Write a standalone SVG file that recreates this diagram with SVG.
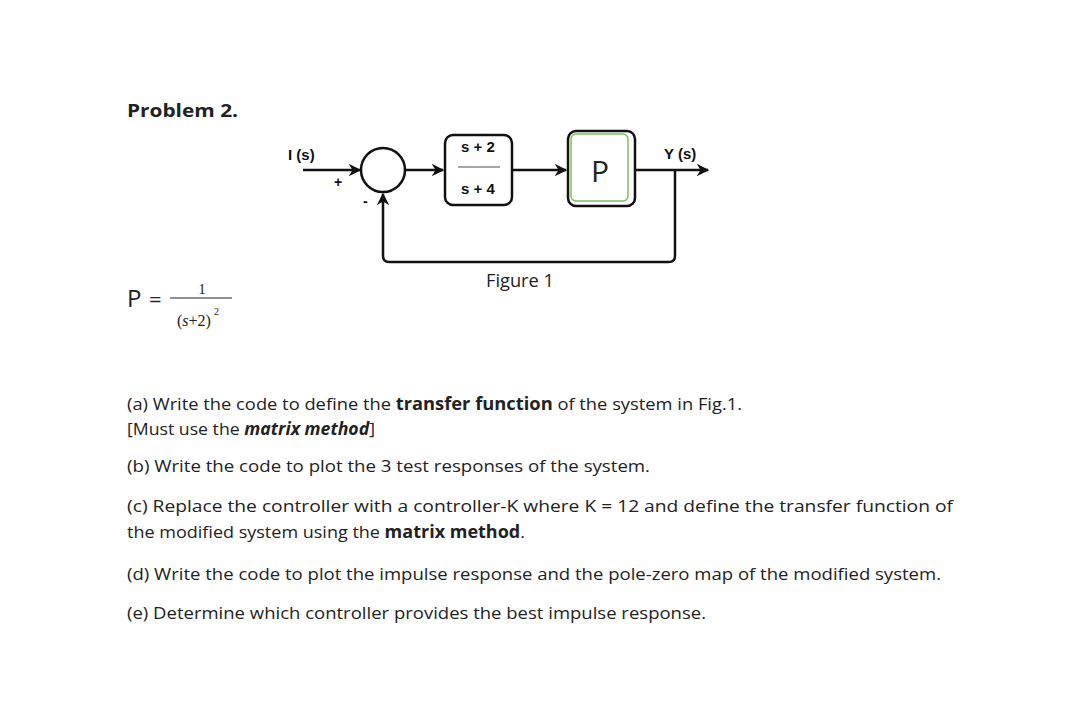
<svg xmlns="http://www.w3.org/2000/svg" width="1080" height="717" viewBox="0 0 1080 717">
<style>
.t{font-family:"Open Sans","Liberation Sans",Arial,sans-serif;fill:#222}
.b{font-family:"Liberation Sans",Arial,sans-serif;font-weight:bold;fill:#111}
.l{stroke:#111;stroke-width:2.5;fill:none}
.m{font-family:"Liberation Serif","Times New Roman",serif;fill:#222}
</style>
<defs><marker id="a" viewBox="0 0 10 10" refX="9" refY="5" markerWidth="5" markerHeight="5" orient="auto"><path d="M0,0L10,5L0,10L3,5z" fill="#111"/></marker></defs>
<rect width="1080" height="717" fill="#fff"/>
<text class="t" x="127" y="117" font-size="18" font-weight="bold" textLength="111" lengthAdjust="spacingAndGlyphs">Problem 2.</text>
<g id="sum"><circle class="l" cx="383" cy="170" r="22"/></g>
<g id="ctrl"><rect class="l" x="445" y="135" width="67" height="70" rx="8"/><line x1="458" y1="167" x2="500" y2="167" stroke="#888" stroke-width="1.5"/><text class="b" x="478" y="152" font-size="15" text-anchor="middle">s + 2</text><text class="b" x="478" y="194" font-size="15" text-anchor="middle">s + 4</text></g>
<g id="plant"><rect class="l" x="568" y="131" width="67" height="75" rx="8"/><rect x="571" y="134" width="57" height="67" rx="5" fill="none" stroke="#7fbf5f" stroke-width="1.5"/><text class="t" x="600" y="182" font-size="30" text-anchor="middle">P</text></g>
<g id="connectors">
<line class="l" x1="303" y1="170" x2="360" y2="170" marker-end="url(#a)"/>
<line class="l" x1="405" y1="170" x2="443" y2="170" marker-end="url(#a)"/>
<line class="l" x1="512" y1="170" x2="566" y2="170" marker-end="url(#a)"/>
<line class="l" x1="635" y1="170" x2="708" y2="170" marker-end="url(#a)"/>
<path class="l" d="M675,170V256q0,6-6,6H389q-6,0-6-6V194" marker-end="url(#a)"/>
</g>
<text class="b" x="288" y="160" font-size="15">I (s)</text>
<text class="b" x="334" y="187" font-size="14">+</text>
<text class="b" x="363" y="206" font-size="14">-</text>
<text class="b" x="664" y="159" font-size="15">Y (s)</text>
<text class="t" x="486" y="287" font-size="18" textLength="68" lengthAdjust="spacingAndGlyphs">Figure 1</text>
<text class="t" x="127" y="307" font-size="24">P</text>
<text class="t" x="149" y="307" font-size="22">=</text>
<line x1="170" y1="298" x2="232" y2="298" stroke="#222" stroke-width="1"/>
<text class="m" x="202" y="294" font-size="15" text-anchor="middle">1</text>
<text class="m" x="177" y="326" font-size="16">(<tspan font-style="italic">s</tspan>+2)</text>
<text class="m" x="214" y="315" font-size="10">2</text>
<g class="t" font-size="17">
<text x="127" y="410" textLength="615" lengthAdjust="spacingAndGlyphs">(a) Write the code to define the <tspan font-weight="bold">transfer function</tspan> of the system in Fig.1.</text>
<text x="127" y="435" textLength="248" lengthAdjust="spacingAndGlyphs">[Must use the <tspan font-weight="bold" font-style="italic">matrix method</tspan>]</text>
<text x="127" y="472" textLength="523" lengthAdjust="spacingAndGlyphs">(b) Write the code to plot the 3 test responses of the system.</text>
<text x="127" y="512" textLength="826" lengthAdjust="spacingAndGlyphs">(c) Replace the controller with a controller-K where K = 12 and define the transfer function of</text>
<text x="127" y="538" textLength="398" lengthAdjust="spacingAndGlyphs">the modified system using the <tspan font-weight="bold">matrix method</tspan>.</text>
<text x="127" y="580" textLength="814" lengthAdjust="spacingAndGlyphs">(d) Write the code to plot the impulse response and the pole-zero map of the modified system.</text>
<text x="127" y="619" textLength="579" lengthAdjust="spacingAndGlyphs">(e) Determine which controller provides the best impulse response.</text>
</g>
</svg>
